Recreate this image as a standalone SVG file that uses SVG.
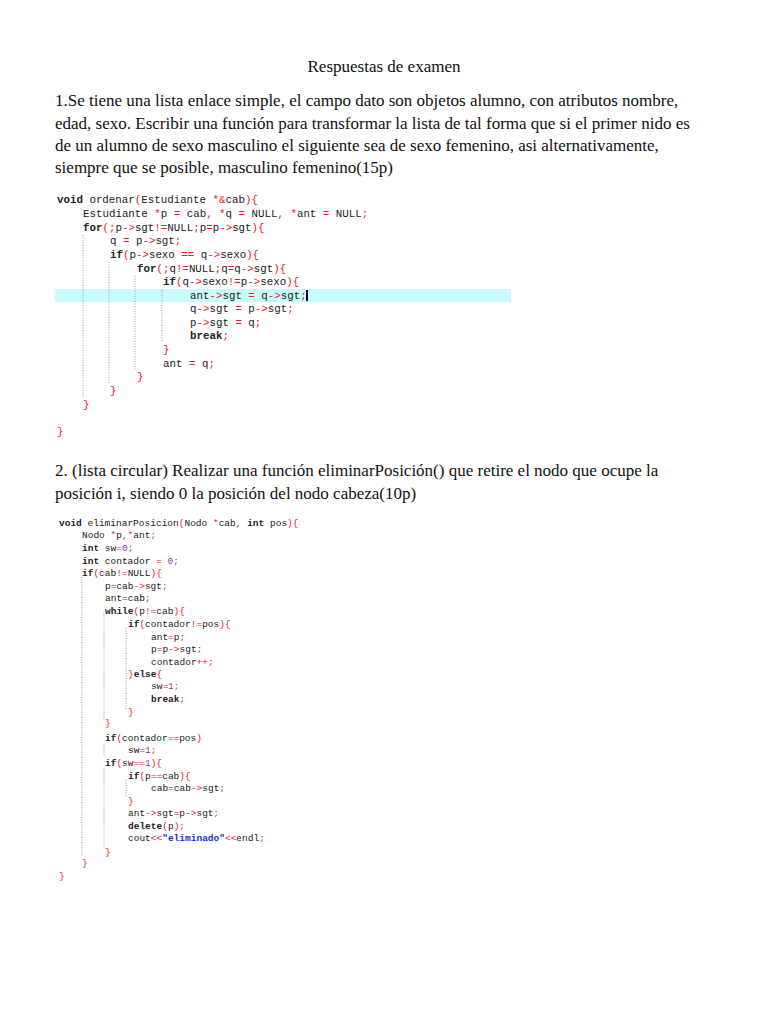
<svg xmlns="http://www.w3.org/2000/svg" width="768" height="1024" viewBox="0 0 768 1024">
<style>
.t{font-family:"Liberation Serif",serif;font-size:17px;fill:#111}
.c1{font-family:"Liberation Mono","DejaVu Sans Mono",monospace;font-size:10.8px;fill:#222}
.c2{font-family:"Liberation Mono","DejaVu Sans Mono",monospace;font-size:9.5px;fill:#222}
.k{font-weight:bold}
.r{fill:#e8202a}
.n{fill:#8a3ab9}
.s{fill:#1030d0;font-weight:bold}
.g{stroke:#999;stroke-width:1;stroke-dasharray:1 1.5}
</style>
<rect width="768" height="1024" fill="#fff"/>
<text class="t" x="384" y="72" text-anchor="middle">Respuestas de examen</text>
<text class="t" x="55" y="106">1.Se tiene una lista enlace simple, el campo dato son objetos alumno, con atributos nombre,</text>
<text class="t" x="55" y="129">edad, sexo. Escribir una función para transformar la lista de tal forma que si el primer nido es</text>
<text class="t" x="55" y="151">de un alumno de sexo masculino el siguiente sea de sexo femenino, asi alternativamente,</text>
<text class="t" x="55" y="173">siempre que se posible, masculino femenino(15p)</text>
<rect x="55" y="289" width="456" height="13" fill="#c8fbfb"/>
<g id="guides1">
<line class="g" x1="83" y1="235" x2="83" y2="398"/>
<line class="g" x1="109" y1="262" x2="109" y2="383"/>
<line class="g" x1="135" y1="276" x2="135" y2="370"/>
<line class="g" x1="162" y1="290" x2="162" y2="342"/>
</g>
<g id="code1" class="c1">
<text x="57" y="203"><tspan class="k">void</tspan> ordenar<tspan class="r">(</tspan>Estudiante <tspan class="r">*&amp;</tspan>cab<tspan class="r">){</tspan></text>
<text x="83" y="217">Estudiante <tspan class="r">*</tspan>p <tspan class="r">=</tspan> cab<tspan class="r">,</tspan> <tspan class="r">*</tspan>q <tspan class="r">=</tspan> NULL<tspan class="r">,</tspan> <tspan class="r">*</tspan>ant <tspan class="r">=</tspan> NULL<tspan class="r">;</tspan></text>
<text x="83" y="231"><tspan class="k">for</tspan><tspan class="r">(;</tspan>p<tspan class="r">-&gt;</tspan>sgt<tspan class="r">!=</tspan>NULL<tspan class="r">;</tspan>p<tspan class="r">=</tspan>p<tspan class="r">-&gt;</tspan>sgt<tspan class="r">){</tspan></text>
<text x="110" y="244">q <tspan class="r">=</tspan> p<tspan class="r">-&gt;</tspan>sgt<tspan class="r">;</tspan></text>
<text x="110" y="258"><tspan class="k">if</tspan><tspan class="r">(</tspan>p<tspan class="r">-&gt;</tspan>sexo <tspan class="r">==</tspan> q<tspan class="r">-&gt;</tspan>sexo<tspan class="r">){</tspan></text>
<text x="137" y="272"><tspan class="k">for</tspan><tspan class="r">(;</tspan>q<tspan class="r">!=</tspan>NULL<tspan class="r">;</tspan>q<tspan class="r">=</tspan>q<tspan class="r">-&gt;</tspan>sgt<tspan class="r">){</tspan></text>
<text x="163" y="285"><tspan class="k">if</tspan><tspan class="r">(</tspan>q<tspan class="r">-&gt;</tspan>sexo<tspan class="r">!=</tspan>p<tspan class="r">-&gt;</tspan>sexo<tspan class="r">){</tspan></text>
<text x="190" y="299">ant<tspan class="r">-&gt;</tspan>sgt <tspan class="r">=</tspan> q<tspan class="r">-&gt;</tspan>sgt<tspan class="r">;</tspan></text>
<text x="190" y="312">q<tspan class="r">-&gt;</tspan>sgt <tspan class="r">=</tspan> p<tspan class="r">-&gt;</tspan>sgt<tspan class="r">;</tspan></text>
<text x="190" y="326">p<tspan class="r">-&gt;</tspan>sgt <tspan class="r">=</tspan> q<tspan class="r">;</tspan></text>
<text x="190" y="339"><tspan class="k">break</tspan><tspan class="r">;</tspan></text>
<text x="163" y="353" class="r">}</text>
<text x="163" y="367">ant <tspan class="r">=</tspan> q<tspan class="r">;</tspan></text>
<text x="137" y="380" class="r">}</text>
<text x="110" y="394" class="r">}</text>
<text x="83" y="408" class="r">}</text>
<text x="57" y="435" class="r">}</text>
</g>
<rect x="306" y="290" width="2" height="11" fill="#000"/>
<text class="t" x="55" y="476">2. (lista circular) Realizar una función eliminarPosición() que retire el nodo que ocupe la</text>
<text class="t" x="55" y="499">posición i, siendo 0 la posición del nodo cabeza(10p)</text>
<g id="guides2">
<line class="g" x1="82" y1="577" x2="82" y2="857"/>
<line class="g" x1="104" y1="612" x2="104" y2="720"/>
<line class="g" x1="104" y1="744" x2="104" y2="756"/>
<line class="g" x1="104" y1="768" x2="104" y2="848"/>
<line class="g" x1="126" y1="628" x2="126" y2="710"/>
<line class="g" x1="126" y1="780" x2="126" y2="797"/>
</g>
<g id="code2" class="c2">
<text x="59" y="526"><tspan class="k">void</tspan> eliminarPosicion<tspan class="r">(</tspan>Nodo <tspan class="r">*</tspan>cab<tspan class="r">,</tspan> <tspan class="k">int</tspan> pos<tspan class="r">){</tspan></text>
<text x="82" y="538">Nodo <tspan class="r">*</tspan>p<tspan class="r">,*</tspan>ant<tspan class="r">;</tspan></text>
<text x="82" y="551"><tspan class="k">int</tspan> sw<tspan class="r">=</tspan><tspan class="n">0</tspan><tspan class="r">;</tspan></text>
<text x="82" y="564"><tspan class="k">int</tspan> contador <tspan class="r">=</tspan> <tspan class="n">0</tspan><tspan class="r">;</tspan></text>
<text x="82" y="576"><tspan class="k">if</tspan><tspan class="r">(</tspan>cab<tspan class="r">!=</tspan>NULL<tspan class="r">){</tspan></text>
<text x="105" y="589">p<tspan class="r">=</tspan>cab<tspan class="r">-&gt;</tspan>sgt<tspan class="r">;</tspan></text>
<text x="105" y="601">ant<tspan class="r">=</tspan>cab<tspan class="r">;</tspan></text>
<text x="105" y="614"><tspan class="k">while</tspan><tspan class="r">(</tspan>p<tspan class="r">!=</tspan>cab<tspan class="r">){</tspan></text>
<text x="128" y="627"><tspan class="k">if</tspan><tspan class="r">(</tspan>contador<tspan class="r">!=</tspan>pos<tspan class="r">){</tspan></text>
<text x="151" y="640">ant<tspan class="r">=</tspan>p<tspan class="r">;</tspan></text>
<text x="151" y="652">p<tspan class="r">=</tspan>p<tspan class="r">-&gt;</tspan>sgt<tspan class="r">;</tspan></text>
<text x="151" y="665">contador<tspan class="r">++;</tspan></text>
<text x="128" y="677"><tspan class="r">}</tspan><tspan class="k">else</tspan><tspan class="r">{</tspan></text>
<text x="151" y="689">sw<tspan class="r">=</tspan><tspan class="n">1</tspan><tspan class="r">;</tspan></text>
<text x="151" y="702"><tspan class="k">break</tspan><tspan class="r">;</tspan></text>
<text x="128" y="715" class="r">}</text>
<text x="105" y="726" class="r">}</text>
<text x="105" y="741"><tspan class="k">if</tspan><tspan class="r">(</tspan>contador<tspan class="r">==</tspan>pos<tspan class="r">)</tspan></text>
<text x="128" y="753">sw<tspan class="r">=</tspan><tspan class="n">1</tspan><tspan class="r">;</tspan></text>
<text x="105" y="766"><tspan class="k">if</tspan><tspan class="r">(</tspan>sw<tspan class="r">==</tspan><tspan class="n">1</tspan><tspan class="r">){</tspan></text>
<text x="128" y="779"><tspan class="k">if</tspan><tspan class="r">(</tspan>p<tspan class="r">==</tspan>cab<tspan class="r">){</tspan></text>
<text x="151" y="791">cab<tspan class="r">=</tspan>cab<tspan class="r">-&gt;</tspan>sgt<tspan class="r">;</tspan></text>
<text x="128" y="804" class="r">}</text>
<text x="128" y="816">ant<tspan class="r">-&gt;</tspan>sgt<tspan class="r">=</tspan>p<tspan class="r">-&gt;</tspan>sgt<tspan class="r">;</tspan></text>
<text x="128" y="829"><tspan class="k">delete</tspan><tspan class="r">(</tspan>p<tspan class="r">);</tspan></text>
<text x="128" y="841">cout<tspan class="r">&lt;&lt;</tspan><tspan class="s">"eliminado"</tspan><tspan class="r">&lt;&lt;</tspan>endl<tspan class="r">;</tspan></text>
<text x="105" y="855" class="r">}</text>
<text x="82" y="866" class="r">}</text>
<text x="59" y="879" class="r">}</text>
</g>
</svg>
